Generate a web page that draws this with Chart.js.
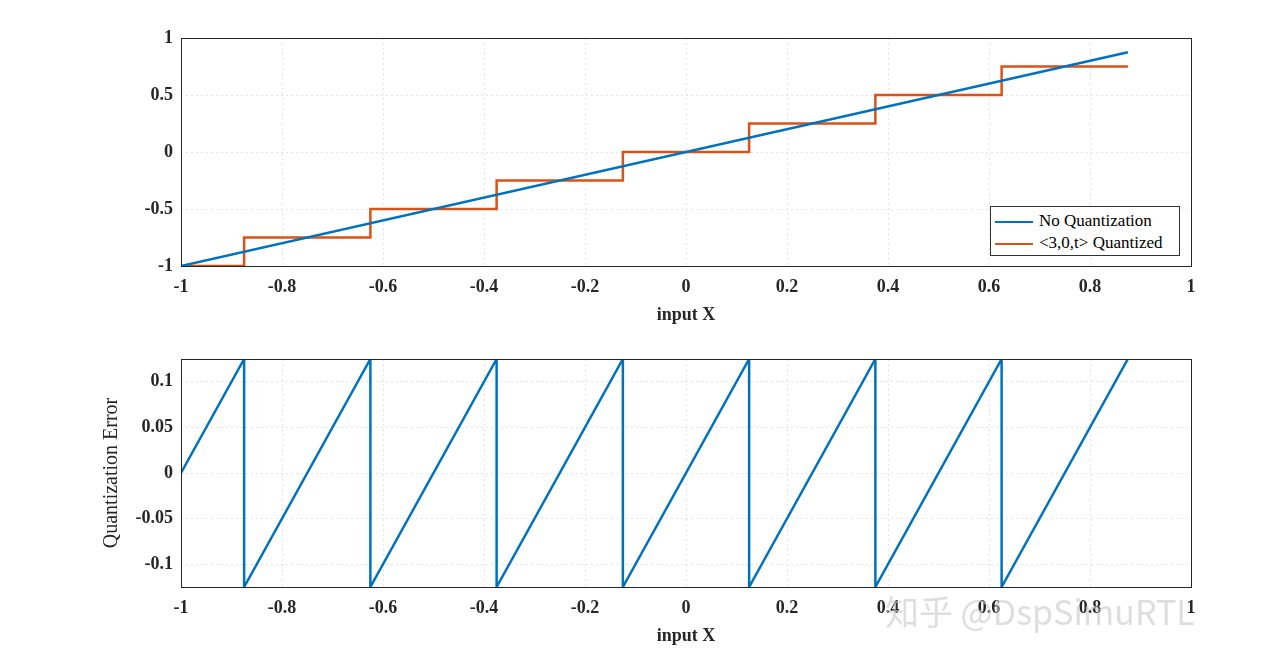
<!DOCTYPE html>
<html><head><meta charset="utf-8">
<script src="https://cdn.jsdelivr.net/npm/chart.js@4"></script>
<style>
body{margin:0;background:#fff;width:1264px;height:665px;position:relative;overflow:hidden;font-family:"Liberation Serif",serif}
canvas{position:absolute;left:0}
#legend{position:absolute;left:990px;top:206px;width:190px;height:50px;border:1px solid #333;background:#fff;font-size:17px;box-sizing:border-box;padding:3px 0 0 4px}
#legend div{height:22px;line-height:22px;white-space:nowrap}
#legend span{display:inline-block;width:38px;height:0;border-top:2.5px solid;vertical-align:middle;margin-right:6px}
#wm{position:absolute;left:885px;top:586px;font:34px "Noto Sans CJK SC",sans-serif;color:rgba(200,200,200,0.6)}
</style></head><body>
<canvas id="top" width="1264" height="332" style="top:0"></canvas>
<canvas id="bot" width="1264" height="333" style="top:332px"></canvas>
<div id="legend"><div><span style="border-color:#0072BD"></span>No Quantization</div><div><span style="border-color:#D95319"></span>&lt;3,0,t&gt; Quantized</div></div>
<div id="wm">知乎 @DspSimuRTL</div>
<script>
const lineX = [-1, 0.875];
const lineY = [-1, 0.875];
const stepX = [-1, -0.875, -0.625, -0.375, -0.125, 0.125, 0.375, 0.625, 0.875];
const stepY = [-1, -0.75, -0.5, -0.25, 0, 0.25, 0.5, 0.75, 0.75];
const errX = [-1, -0.875, -0.875, -0.625, -0.625, -0.375, -0.375, -0.125, -0.125, 0.125, 0.125, 0.375, 0.375, 0.625, 0.625, 0.875];
const errY = [0, 0.125, -0.125, 0.125, -0.125, 0.125, -0.125, 0.125, -0.125, 0.125, -0.125, 0.125, -0.125, 0.125, -0.125, 0.125];
const errTicks = [-0.1, -0.05, 0, 0.05, 0.1];

const blue = "#0072BD";
const orange = "#D95319";
const font = { family: "Liberation Serif", size: 18, weight: "bold" };
const pts = (xs, ys) => xs.map((x, i) => ({ x: x, y: ys[i] }));
const fmt = (v) => String(Math.round(v * 1000) / 1000);

const boxPlugin = {
    id: "box",
    afterDraw(chart) {
        const a = chart.chartArea;
        const c = chart.ctx;
        c.save();
        c.strokeStyle = "#262626";
        c.lineWidth = 1;
        c.strokeRect(a.left + 0.5, a.top + 0.5, a.right - a.left, a.bottom - a.top);
        c.restore();
    },
};

function xAxis() {
    return {
        type: "linear", min: -1, max: 1,
        ticks: { stepSize: 0.2, font: font, color: "#262626", padding: 11, callback: fmt },
        grid: { color: "#e4e4e4", drawTicks: false },
        border: { display: false, dash: [2, 3] },
        title: { display: true, text: "input X", font: font, color: "#262626", padding: 0 },
        afterFit(s) { s.height = 60; },
    };
}

const baseOpts = {
    responsive: false, animation: false,
    plugins: { legend: { display: false }, tooltip: { enabled: false } },
    elements: { point: { radius: 0 } },
};

new Chart(document.getElementById("top"), {
    type: "line",
    data: {
        datasets: [
            { label: "No Quantization", data: pts(lineX, lineY), borderColor: blue, borderWidth: 2.5 },
            { label: "<3,0,t> Quantized", data: pts(stepX, stepY), borderColor: orange, borderWidth: 2.5, stepped: "before" },
        ],
    },
    options: Object.assign({}, baseOpts, {
        layout: { padding: { left: 100, right: 73, top: 38, bottom: 6 } },
        scales: {
            x: xAxis(),
            y: {
                min: -1, max: 1,
                ticks: { stepSize: 0.5, font: font, color: "#262626", padding: 8, callback: fmt },
                grid: { color: "#e4e4e4", drawTicks: false },
                border: { display: false, dash: [2, 3] },
                afterFit(s) { s.width = 81; },
            },
        },
    }),
    plugins: [boxPlugin],
});

new Chart(document.getElementById("bot"), {
    type: "line",
    data: { datasets: [{ label: "error", data: pts(errX, errY), borderColor: blue, borderWidth: 2.5 }] },
    options: Object.assign({}, baseOpts, {
        layout: { padding: { left: 100, right: 73, top: 27, bottom: 18 } },
        scales: {
            x: xAxis(),
            y: {
                min: -0.125, max: 0.125,
                afterBuildTicks(s) { s.ticks = errTicks.map(v => ({ value: v })); },
                ticks: { font: font, color: "#262626", padding: 8, callback: fmt },
                grid: { color: "#e4e4e4", drawTicks: false },
                border: { display: false, dash: [2, 3] },
                title: { display: true, text: "Quantization Error", font: { family: "Liberation Serif", size: 20 }, color: "#262626", padding: 0 },
                afterFit(s) { s.width = 81; },
            },
        },
    }),
    plugins: [boxPlugin],
});
</script>
</body></html>
